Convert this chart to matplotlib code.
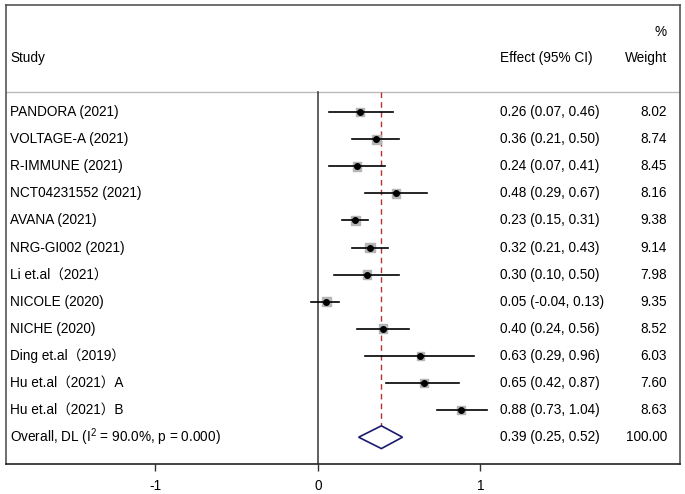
import matplotlib.pyplot as plt
from matplotlib.patches import Polygon

plt.rcParams['font.family'] = ['Liberation Sans', 'Noto Sans CJK SC', 'DejaVu Sans']
plt.rcParams['mathtext.fontset'] = 'custom'
plt.rcParams['mathtext.rm'] = 'Liberation Sans'
plt.rcParams['mathtext.it'] = 'Liberation Sans'

studies = ['PANDORA (2021)', 'VOLTAGE-A (2021)', 'R-IMMUNE (2021)', 'NCT04231552 (2021)',
           'AVANA (2021)', 'NRG-GI002 (2021)', 'Li et.al\uff082021\uff09', 'NICOLE (2020)',
           'NICHE (2020)', 'Ding et.al\uff082019\uff09', 'Hu et.al\uff082021\uff09A',
           'Hu et.al\uff082021\uff09B']
effect = [0.26, 0.36, 0.24, 0.48, 0.23, 0.32, 0.30, 0.05, 0.40, 0.63, 0.65, 0.88]
lower = [0.07, 0.21, 0.07, 0.29, 0.15, 0.21, 0.10, -0.04, 0.24, 0.29, 0.42, 0.73]
upper = [0.46, 0.50, 0.41, 0.67, 0.31, 0.43, 0.50, 0.13, 0.56, 0.96, 0.87, 1.04]
weight = [8.02, 8.74, 8.45, 8.16, 9.38, 9.14, 7.98, 9.35, 8.52, 6.03, 7.60, 8.63]
overall = (0.39, 0.25, 0.52)
overall_label = 'Overall, DL (I$^2$ = 90.0%, p = 0.000)'

fig = plt.figure(figsize=(6.85, 4.94), dpi=100)
W, H = 685, 494
# axes box in pixels
x0, x1, ytop, ybot = 6, 680, 5, 464
ax = fig.add_axes([x0 / W, 1 - ybot / H, (x1 - x0) / W, (ybot - ytop) / H])

px_unit = 162.5
zero_px = 318
row0, row_h = 112, 27.1
ax.set_xlim((x0 - zero_px) / px_unit, (x1 - zero_px) / px_unit)
ax.set_ylim((ybot - row0) / row_h, (ytop - row0) / row_h)

def xd(px):
    return (px - zero_px) / px_unit

def yd(px):
    return (px - row0) / row_h

for s in ax.spines.values():
    s.set_color('#555555')
    s.set_linewidth(1.2)
ax.spines['bottom'].set_color('#222222')
ax.set_xticks([-1, 0, 1])
ax.set_xticklabels(['-1', '0', '1'])
ax.set_yticks([])
ax.tick_params(axis='x', length=5, width=1, color='#333333', labelsize=9.8, pad=6)

n = len(studies)
rows = list(range(n))

# header separator and null line
ax.axhline(yd(92), color='#bbbbbb', lw=1)
ax.plot([0, 0], [yd(92), yd(ybot)], color='#444444', lw=1.2)
ax.plot([overall[0], overall[0]], [yd(92), n + 0.42], color='#b83232', lw=1, ls=(0, (4, 3)))

for i in rows:
    ax.plot([lower[i], upper[i]], [i, i], color='black', lw=1.2, zorder=3)
ax.scatter(effect, rows, s=[w * 4.6 for w in weight], marker='s', color='#b5b5b5', zorder=2)
ax.scatter(effect, rows, s=16, color='black', zorder=4)

est, lo, hi = overall
diamond = Polygon([[lo, n], [est, n - 0.42], [hi, n], [est, n + 0.42]], closed=True,
                  facecolor='white', edgecolor='#1a1a6e', lw=1.2, zorder=3)
ax.add_patch(diamond)

fs = 9.8
ax.text(xd(10), yd(58), 'Study', fontsize=fs, va='center', ha='left')
ax.text(xd(500), yd(58), 'Effect (95% CI)', fontsize=fs, va='center', ha='left')
ax.text(xd(667), yd(58), 'Weight', fontsize=fs, va='center', ha='right')
ax.text(xd(667), yd(32), '%', fontsize=fs, va='center', ha='right')

for i in rows:
    ax.text(xd(10), i, studies[i], fontsize=fs, va='center', ha='left')
    ax.text(xd(500), i, '%.2f (%.2f, %.2f)' % (effect[i], lower[i], upper[i]),
            fontsize=fs, va='center', ha='left')
    ax.text(xd(667), i, '%.2f' % weight[i], fontsize=fs, va='center', ha='right')
ax.text(xd(10), n, overall_label, fontsize=fs, va='center', ha='left')
ax.text(xd(500), n, '%.2f (%.2f, %.2f)' % overall, fontsize=fs, va='center', ha='left')
ax.text(xd(667), n, '%.2f' % 100, fontsize=fs, va='center', ha='right')

fig.savefig('out.png', dpi=100)
